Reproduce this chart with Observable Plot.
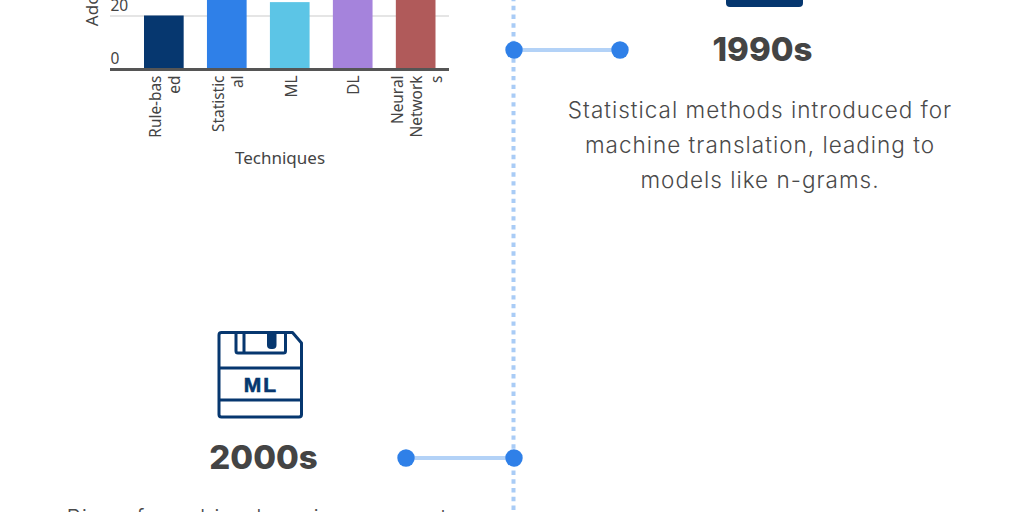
<!DOCTYPE html>
<html><head><meta charset="utf-8">
<script src="https://cdn.jsdelivr.net/npm/d3@7"></script>
<script src="https://cdn.jsdelivr.net/npm/@observablehq/plot@0.6"></script>
<style>
html,body{margin:0;padding:0;background:#fff;width:1024px;height:512px;overflow:hidden}
#page{position:relative;width:1024px;height:512px;overflow:hidden}
#page svg{position:absolute;left:0;display:block;background:transparent;max-width:none}
.para text,text.para,g.para{letter-spacing:1px}
</style></head><body><div id="page"></div>
<script>
const techniques=["Rule-based","Statistical","ML","DL","Neural Networks"];
const adoption=[20,40,25,45,35];
const barColors=["#06376f","#2f80e8","#5cc5e6","#a583dc","#b05a5a"];
const tickLabels=["Rule-bas\ned","Statistic\nal","ML","DL","Neural\nNetwork\ns"];
const yTicks=[0,20,40,60];
const decades=[1990,2000];
const decadeLabels=["1990s","2000s"];
const decadeSide=["right","left"];
const descriptions=["Statistical methods introduced for\nmachine translation, leading to\nmodels like n-grams.","Rise of machine learning concepts"];

const page=document.getElementById("page");
const bars=techniques.map((t,i)=>({t,v:adoption[i],c:barColors[i],l:tickLabels[i]}));
const ink="#444444", fira="'Noto Sans',sans-serif", mont="Inter,sans-serif";

const chart=Plot.plot({
  width:1024,height:300,marginTop:0,marginBottom:131,marginLeft:110,marginRight:575,
  style:{fontFamily:fira,background:"transparent"},
  x:{type:"band",domain:techniques,range:[144,435.5],paddingInner:0.37,paddingOuter:0,round:false,axis:null},
  y:{domain:[0,60],range:[169,8.5],axis:null},
  marks:[
    Plot.ruleY(yTicks,{stroke:"#dddddd",strokeWidth:1.5}),
    Plot.barY(bars,{x:"t",y:"v",fill:"c"}),
    Plot.ruleY([0],{stroke:"#555555",strokeWidth:3}),
    Plot.text(yTicks,{y:d=>d,text:d=>String(d),frameAnchor:"left",textAnchor:"start",dy:-10,fontSize:15.5,fill:ink}),
    Plot.text(bars,{x:"t",text:"l",frameAnchor:"bottom",rotate:-90,textAnchor:"end",lineAnchor:"middle",lineHeight:1.27,dy:6,fontSize:15.4,fill:ink}),
    Plot.text(["Techniques"],{frameAnchor:"bottom",dy:94,fontSize:17,fill:ink}),
    Plot.text(["Adoption Rate (%)"],{y:16.2,frameAnchor:"left",dx:-18,rotate:-90,textAnchor:"start",fontSize:17,fill:ink})
  ]
});
chart.style.top="-100px";
page.append(chart);

const rows=decades.map((d,i)=>({d,l:decadeLabels[i],s:decadeSide[i],t:descriptions[i]}));
const spineX=513.5;
const endX=d=>d.s==="right"?619.5:405.5;
const timeline=Plot.plot({
  width:1024,height:512,margin:0,
  style:{fontFamily:mont,background:"transparent"},
  x:{domain:[0,1024],range:[0,1024],axis:null},
  y:{domain:[1990,2000],range:[49.5,457.5],axis:null},
  marks:[
    Plot.ruleX([spineX],{dx:-0.5,stroke:"#a9ccf6",strokeWidth:4,strokeDasharray:"4.4 4.37",strokeDashoffset:3.04}),
    Plot.link(rows,{x1:()=>spineX,x2:endX,y1:"d",y2:"d",stroke:"#b3d2f7",strokeWidth:4}),
    Plot.dot(rows,{x:()=>spineX,y:"d",r:8.7,fill:"#2f80e8"}),
    Plot.dot(rows,{x:endX,y:"d",r:8.7,fill:"#2f80e8"}),
    Plot.text(rows,{x:d=>d.s==="right"?762:263,y:"d",text:"l",fontSize:33,fontWeight:800,fill:ink}),
    Plot.text(rows,{className:"para",x:d=>d.s==="right"?759.5:263,y:"d",text:"t",lineAnchor:"top",dy:43,lineHeight:35/22.5,fontSize:22.5,fontWeight:300,fill:"#4a4a4a"})
  ]
});
timeline.style.top="0";
page.append(timeline);

const ns="http://www.w3.org/2000/svg";
const icons=document.createElementNS(ns,"svg");
icons.setAttribute("width",1024);icons.setAttribute("height",512);
icons.style.top="0";
icons.innerHTML=`
<rect x="726" y="-30" width="77" height="37" rx="4" fill="#06376f"/>
<g fill="none" stroke="#06376f" stroke-width="3" stroke-linejoin="round">
<path d="M221.5 332.5H292.5L301.5 343V414.5a2.5 2.5 0 0 1-2.5 2.5H221.5a2.5 2.5 0 0 1-2.5-2.5V335a2.5 2.5 0 0 1 2.5-2.5Z"/>
<path d="M236 332.5V351a2 2 0 0 0 2 2H283.5a2 2 0 0 0 2-2V332.5"/>
<path d="M244 332.5V353M219 368H301.5M219 400H301.5"/>
</g>
<path d="M267 332H276.5V345a4 4 0 0 1-4 4h-1.5a4 4 0 0 1-4-4Z" fill="#06376f"/>
<text x="261" y="392" text-anchor="middle" font-family="'Liberation Sans',sans-serif" font-weight="700" font-size="21" letter-spacing="2" stroke="#06376f" stroke-width="0.6" fill="#06376f">ML</text>`;
page.append(icons);
</script></body></html>
